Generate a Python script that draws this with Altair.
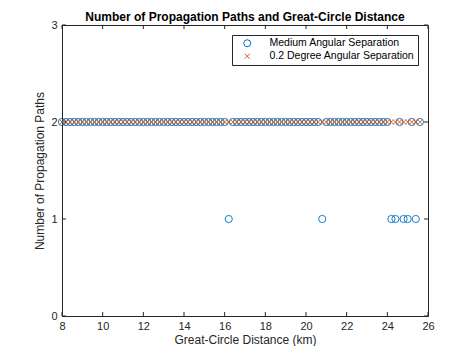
import altair as alt
import pandas as pd

# Great-circle distances (km)
distance_km = [
    8.0, 8.2, 8.4, 8.6, 8.8, 9.0, 9.2, 9.4, 9.6, 9.8,
    10.0, 10.2, 10.4, 10.6, 10.8, 11.0, 11.2, 11.4, 11.6, 11.8,
    12.0, 12.2, 12.4, 12.6, 12.8, 13.0, 13.2, 13.4, 13.6, 13.8,
    14.0, 14.2, 14.4, 14.6, 14.8, 15.0, 15.2, 15.4, 15.6, 15.8,
    16.0, 16.2, 16.4, 16.6, 16.8, 17.0, 17.2, 17.4, 17.6, 17.8,
    18.0, 18.2, 18.4, 18.6, 18.8, 19.0, 19.2, 19.4, 19.6, 19.8,
    20.0, 20.2, 20.4, 20.6, 20.8, 21.0, 21.2, 21.4, 21.6, 21.8,
    22.0, 22.2, 22.4, 22.6, 22.8, 23.0, 23.2, 23.4, 23.6, 23.8,
    24.0, 24.2, 24.4, 24.6, 24.8, 25.0, 25.2, 25.4, 25.6,
]
# Number of paths, medium angular separation
medium_paths = [
    2, 2, 2, 2, 2, 2, 2, 2, 2, 2,
    2, 2, 2, 2, 2, 2, 2, 2, 2, 2,
    2, 2, 2, 2, 2, 2, 2, 2, 2, 2,
    2, 2, 2, 2, 2, 2, 2, 2, 2, 2,
    2, 1, 2, 2, 2, 2, 2, 2, 2, 2,
    2, 2, 2, 2, 2, 2, 2, 2, 2, 2,
    2, 2, 2, 2, 1, 2, 2, 2, 2, 2,
    2, 2, 2, 2, 2, 2, 2, 2, 2, 2,
    2, 1, 1, 2, 1, 1, 2, 1, 2,
]
# Number of paths, 0.2 degree angular separation
fine_paths = [
    2, 2, 2, 2, 2, 2, 2, 2, 2, 2,
    2, 2, 2, 2, 2, 2, 2, 2, 2, 2,
    2, 2, 2, 2, 2, 2, 2, 2, 2, 2,
    2, 2, 2, 2, 2, 2, 2, 2, 2, 2,
    2, 2, 2, 2, 2, 2, 2, 2, 2, 2,
    2, 2, 2, 2, 2, 2, 2, 2, 2, 2,
    2, 2, 2, 2, 2, 2, 2, 2, 2, 2,
    2, 2, 2, 2, 2, 2, 2, 2, 2, 2,
    2, 2, 2, 2, 2, 2, 2, 2, 2,
]
series_names = ["Medium Angular Separation", "0.2 Degree Angular Separation"]
series_colors = ["#0072BD", "#D95319"]
x_ticks = [8, 10, 12, 14, 16, 18, 20, 22, 24, 26]
y_ticks = [0, 1, 2, 3]

W, H = 366, 291
TICK = 4
AX = "#262626"

rows = []
for d, n in zip(distance_km, medium_paths):
    rows.append({"d": d, "n": n, "s": series_names[0]})
for d, n in zip(distance_km, fine_paths):
    rows.append({"d": d, "n": n, "s": series_names[1]})
df = pd.DataFrame(rows)
df["order"] = range(len(df))

xscale = alt.Scale(domain=[8, 26], nice=False, zero=False)
yscale = alt.Scale(domain=[0, 3], nice=False, zero=False)
xaxis = alt.Axis(values=x_ticks, title="Great-Circle Distance (km)", ticks=False,
                 labelPadding=4, titlePadding=3, grid=False, labelFlush=False, labelOverlap=False)
yaxis = alt.Axis(values=y_ticks, title="Number of Propagation Paths", ticks=False,
                 labelPadding=5, titlePadding=4, grid=False, labelFlush=False, labelOverlap=False)

points = alt.Chart(df).mark_point(filled=False, size=52, strokeWidth=0.9, opacity=1).encode(
    x=alt.X("d:Q", scale=xscale, axis=xaxis),
    y=alt.Y("n:Q", scale=yscale, axis=yaxis),
    color=alt.Color("s:N", scale=alt.Scale(domain=series_names, range=series_colors),
                    legend=alt.Legend(title=None, orient="none", legendX=170, legendY=10)),
    shape=alt.Shape("s:N", scale=alt.Scale(domain=series_names,
                                           range=["circle", "M-0.7,-0.7L0.7,0.7M-0.7,0.7L0.7,-0.7"])),
    order=alt.Order("order:Q"),
)

xt = pd.DataFrame({"d": x_ticks})
yt = pd.DataFrame({"n": y_ticks})

bottom_ticks = alt.Chart(xt).mark_rule(color=AX, strokeWidth=1).encode(
    x=alt.X("d:Q", scale=xscale, axis=xaxis), y=alt.value(H), y2=alt.value(H - TICK))
top_ticks = alt.Chart(xt).mark_rule(color=AX, strokeWidth=1).encode(
    x=alt.X("d:Q", scale=xscale, axis=xaxis), y=alt.value(0), y2=alt.value(TICK))
left_ticks = alt.Chart(yt).mark_rule(color=AX, strokeWidth=1).encode(
    y=alt.Y("n:Q", scale=yscale, axis=yaxis), x=alt.value(0), x2=alt.value(TICK))
right_ticks = alt.Chart(yt).mark_rule(color=AX, strokeWidth=1).encode(
    y=alt.Y("n:Q", scale=yscale, axis=yaxis), x=alt.value(W), x2=alt.value(W - TICK))

chart = alt.layer(points, bottom_ticks, top_ticks, left_ticks, right_ticks).properties(
    width=W, height=H,
    title=alt.Title("Number of Propagation Paths and Great-Circle Distance",
                    fontSize=12, fontWeight="bold", font="Liberation Sans", color="black",
                    offset=2, dy=7),
    autosize=alt.AutoSizeParams(type="none"),
    padding={"left": 54, "top": 17, "right": 38, "bottom": 30},
).configure_view(
    stroke=AX, strokeWidth=1
).configure_axis(
    labelFont="Liberation Sans", titleFont="Liberation Sans", labelFontSize=11, titleFontSize=12,
    labelColor=AX, titleColor=AX, domainColor=AX, titleFontWeight="normal"
).configure_legend(
    labelFont="Liberation Sans", labelFontSize=10.5, labelColor="black",
    strokeColor=AX, fillColor="white", padding=3, rowPadding=2,
    symbolStrokeWidth=1, symbolSize=49, symbolFillColor="transparent",
    labelOffset=17, symbolOffset=7, labelLimit=400,
)

chart.save("out.html", embed_options={"renderer": "svg", "actions": False})
